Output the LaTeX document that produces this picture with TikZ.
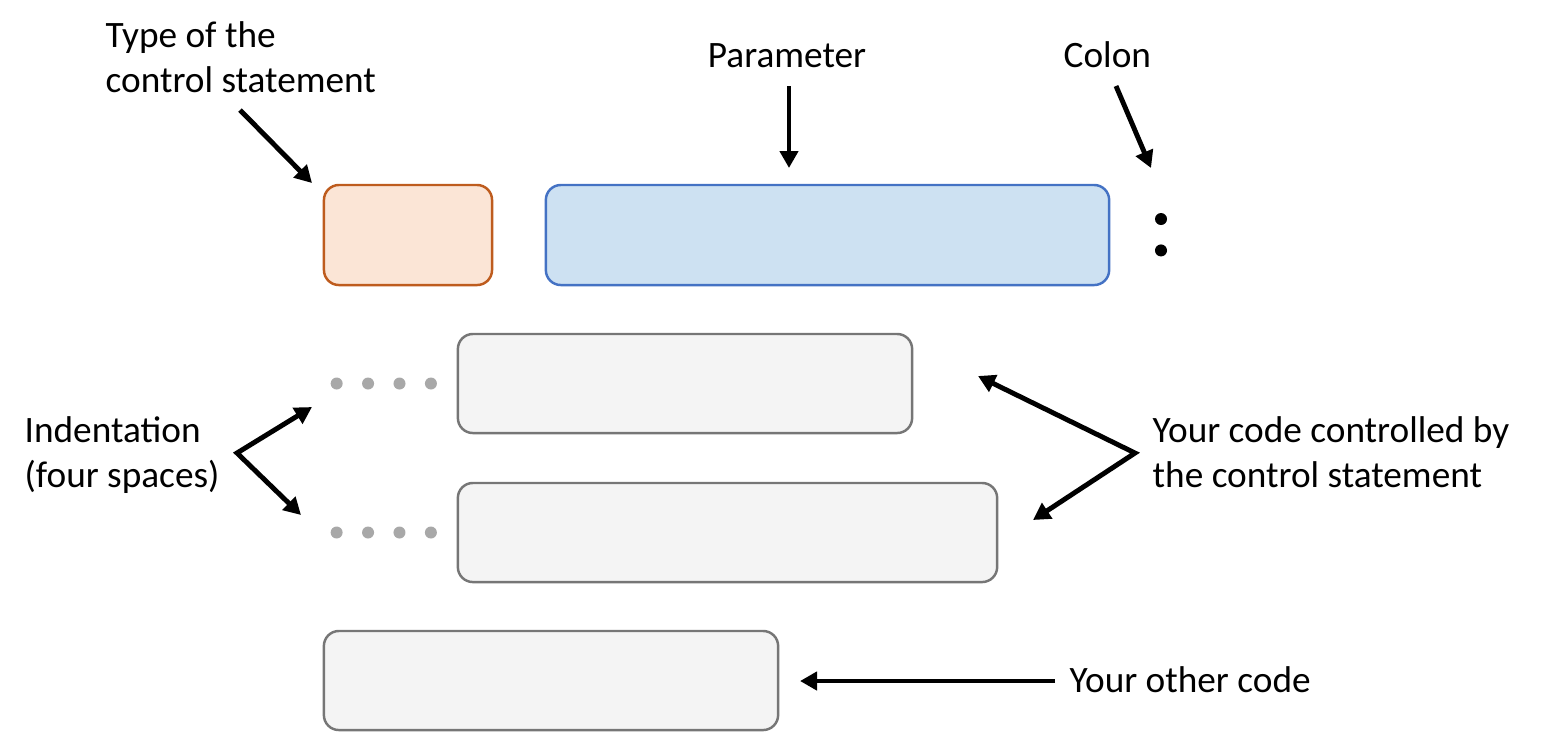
\documentclass[tikz,border=0pt]{standalone}
\usepackage{fontspec}
\setmainfont{Carlito}
\usepackage{tikz}
\usetikzlibrary{arrows.meta, positioning}
\definecolor{typefill}{RGB}{251, 229, 214}
\definecolor{typeborder}{RGB}{190, 92, 30}
\definecolor{paramfill}{RGB}{205, 225, 242}
\definecolor{paramborder}{RGB}{68, 114, 196}
\definecolor{codefill}{RGB}{244, 244, 244}
\definecolor{codeborder}{RGB}{118, 118, 118}
\definecolor{indentdot}{RGB}{168, 168, 168}
\tikzstyle{codebox} = [rectangle, rounded corners=0.15cm, minimum height=0.99cm,
                       draw=codeborder, fill=codefill, line width=0.7pt, inner sep=0pt]
\tikzstyle{typebox} = [codebox, draw=typeborder, fill=typefill, minimum height=1cm]
\tikzstyle{parambox} = [codebox, draw=paramborder, fill=paramfill, minimum height=1cm]
\tikzstyle{spacedot} = [circle, fill=indentdot, minimum size=0.12cm, inner sep=0pt]
\tikzstyle{colondot} = [spacedot, fill=black]
\tikzstyle{label} = [align=left, inner sep=0pt, anchor=base west]
\tikzstyle{arrow} = [-{Triangle[length=0.17cm, width=0.18cm]}, line width=1.4pt]
\tikzstyle{twoarrow} = [{Triangle[length=0.17cm, width=0.18cm]}-{Triangle[length=0.17cm, width=0.18cm]}, line width=1.4pt, line join=miter]

\begin{document}
\begin{tikzpicture}[x=0.01cm, y=-0.01cm, font=\fontsize{10.6pt}{12.6pt}\selectfont]
    \useasboundingbox (0,0) rectangle (1545,732);
    % Statement line
    \node[typebox, minimum width=1.68cm] (type) at (408,235) {};
    \node[parambox, minimum width=5.63cm] (param) at (827.5,235) {};
    \node[colondot] (colon1) at (1161,219) {};
    \node[colondot, below=0.18cm of colon1] (colon2) {};

    % Indented code
    \node[codebox, minimum width=4.54cm] (body1) at (685,383.5) {};
    \node[codebox, minimum width=5.39cm] (body2) at (727.5,532.5) {};
    \node[codebox, minimum width=4.54cm] (other) at (551,680.5) {};

    % Four spaces
    \node[spacedot, left=0.19cm of body1] (sa4) {};
    \node[spacedot, left=0.18cm of sa4] (sa3) {};
    \node[spacedot, left=0.18cm of sa3] (sa2) {};
    \node[spacedot, left=0.18cm of sa2] (sa1) {};
    \node[spacedot, left=0.19cm of body2] (sb4) {};
    \node[spacedot, left=0.18cm of sb4] (sb3) {};
    \node[spacedot, left=0.18cm of sb3] (sb2) {};
    \node[spacedot, left=0.18cm of sb2] (sb1) {};

    % Labels (base of a two-line label is its last line)
    \node[label] (typelabel) at (105,92) {Type of the\\control statement};
    \node[label, anchor=base] (paramlabel) at (787,67) {Parameter};
    \node[label] (colonlabel) at (1063,67) {Colon};
    \node[label] (indentlabel) at (24,487) {Indentation\\(four spaces)};
    \node[label] (bodylabel) at (1152,487) {Your code controlled by\\the control statement};
    \node[label] (otherlabel) at (1069,692) {Your other code};

    % Arrow ends
    \coordinate (typetail) at (240,110);
    \coordinate (typetip) at (312,183);
    \coordinate (paramtail) at (789,86);
    \coordinate (paramtip) at (789,168);
    \coordinate (colontail) at (1116,86);
    \coordinate (colontip) at (1151,168);
    \coordinate (indenttip1) at (312,407);
    \coordinate (indentfork) at (237,453);
    \coordinate (indenttip2) at (301,515);
    \coordinate (bodytip1) at (978,376);
    \coordinate (bodyfork) at (1135,453);
    \coordinate (bodytip2) at (1033,520);
    \coordinate (othertail) at (1055,681);
    \coordinate (othertip) at (800,681);

    % Arrows
    \draw[arrow] (typetail) -- (typetip);
    \draw[arrow] (paramtail) -- (paramtip);
    \draw[arrow] (colontail) -- (colontip);
    \draw[twoarrow] (indenttip1) -- (indentfork) -- (indenttip2);
    \draw[twoarrow] (bodytip1) -- (bodyfork) -- (bodytip2);
    \draw[arrow] (othertail) -- (othertip);
\end{tikzpicture}
\end{document}
